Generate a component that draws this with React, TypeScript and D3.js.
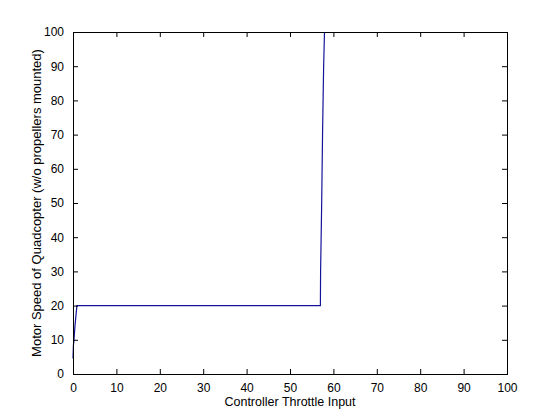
import React, { useRef, useEffect } from 'react';
import * as d3 from 'd3';

// throttle input (x) vs motor speed (y)
const throttle = [0, 0.1, 0.2, 0.45, 0.9, 57, 57.05, 57.3, 57.5, 57.75, 57.95];
const speed = [4.5, 8.5, 9.5, 14, 20, 20, 30, 50, 70, 90, 100];
const xTicks = [0, 10, 20, 30, 40, 50, 60, 70, 80, 90, 100];
const yTicks = [0, 10, 20, 30, 40, 50, 60, 70, 80, 90, 100];

const App: React.FC = () => {
  const svgRef = useRef<SVGSVGElement>(null);
  const width = 560;
  const height = 420;
  const margin = { top: 32, right: 53, bottom: 46, left: 73 };

  useEffect(() => {
    if (!svgRef.current) return;
    const svg = d3.select(svgRef.current);
    svg.selectAll('*').remove();

    const innerWidth = width - margin.left - margin.right;
    const innerHeight = height - margin.top - margin.bottom;
    const font = 'Arial, "Liberation Sans", sans-serif';

    svg.append('rect').attr('width', width).attr('height', height).attr('fill', '#ffffff');

    const g = svg.append('g').attr('transform', `translate(${margin.left},${margin.top})`);

    const x = d3.scaleLinear().domain([0, 100]).range([0, innerWidth]);
    const y = d3.scaleLinear().domain([0, 100]).range([innerHeight, 0]);

    // trace
    const pts: [number, number][] = throttle.map((t, i) => [t, speed[i]]);
    const line = d3.line<[number, number]>()
      .x(d => x(d[0]))
      .y(d => y(d[1]));
    g.append('path')
      .datum(pts)
      .attr('d', line)
      .attr('fill', 'none')
      .attr('stroke', '#14149a')
      .attr('stroke-width', 1.2);

    // box + ticks, MATLAB style (ticks inside, on all four sides)
    const styleAxis = (sel: d3.Selection<SVGGElement, unknown, null, undefined>) => {
      sel.select('.domain').remove();
      sel.selectAll('line').attr('stroke', '#000');
      sel.selectAll('text').attr('font-family', font).attr('font-size', 12).attr('fill', '#000');
    };

    g.append('g')
      .attr('transform', `translate(0,${innerHeight})`)
      .call(d3.axisBottom(x).tickValues(xTicks).tickSizeInner(-5).tickSizeOuter(0).tickPadding(9))
      .call(styleAxis);
    g.append('g')
      .call(d3.axisTop(x).tickValues(xTicks).tickSizeInner(-5).tickSizeOuter(0).tickFormat(() => ''))
      .call(styleAxis);
    g.append('g')
      .call(d3.axisLeft(y).tickValues(yTicks).tickSizeInner(-5).tickSizeOuter(0).tickPadding(9))
      .call(styleAxis);
    g.append('g')
      .attr('transform', `translate(${innerWidth},0)`)
      .call(d3.axisRight(y).tickValues(yTicks).tickSizeInner(-5).tickSizeOuter(0).tickFormat(() => ''))
      .call(styleAxis);

    g.append('rect')
      .attr('x', 0.5)
      .attr('y', 0.5)
      .attr('width', innerWidth)
      .attr('height', innerHeight)
      .attr('fill', 'none')
      .attr('stroke', '#000');

    g.append('text')
      .attr('x', innerWidth / 2)
      .attr('y', innerHeight + 32)
      .attr('text-anchor', 'middle')
      .attr('font-family', font)
      .attr('font-size', 12.5)
      .text('Controller Throttle Input');

    g.append('text')
      .attr('transform', `translate(${41 - margin.left},${innerHeight / 2}) rotate(-90)`)
      .attr('text-anchor', 'middle')
      .attr('font-family', font)
      .attr('font-size', 13)
      .text('Motor Speed of Quadcopter (w/o propellers mounted)');
  }, []);

  return (
    <svg
      ref={svgRef}
      width={width}
      height={height}
      style={{ position: 'absolute', left: 0, top: 0, display: 'block' }}
    />
  );
};

export default App;
